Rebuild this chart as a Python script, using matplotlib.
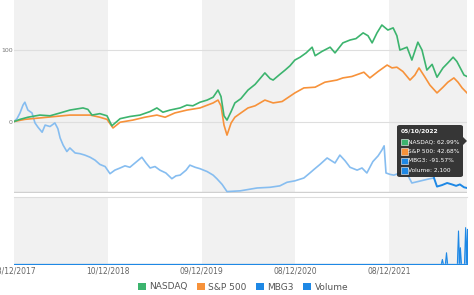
import numpy as np
import matplotlib.pyplot as plt
from matplotlib.patches import Patch, FancyBboxPatch, Rectangle, Polygon

# x positions are trading-day indices (250 per tick band)
tick_pos = [0, 250, 500, 750, 1000]
tick_labels = ["08/12/2017", "10/12/2018", "09/12/2019", "08/12/2020", "08/12/2021"]
x_end = 1208

nasdaq_x = [0, 16, 37, 69, 96, 123, 149, 184, 197, 208, 229, 248, 261, 283, 309, 336, 363, 381, 397, 416,
            443, 461, 477, 496, 515, 531, 544, 552, 560, 568, 579, 589, 605, 624, 643, 669, 683, 691, 709, 723,
            736, 749, 763, 779, 795, 803, 821, 843, 856, 877, 896, 912, 931, 944, 955, 968, 981, 997, 1011,
            1021, 1029, 1048, 1061, 1077, 1088, 1101, 1115, 1128, 1144, 1157, 1171, 1181, 1189, 1200, 1208]
nasdaq_y = [0, 3, 6, 9, 8, 12, 16, 19, 17, 9, 11, 8, -6, 4, 7, 9, 14, 19, 13, 16,
            19, 23, 22, 27, 30, 34, 44, 35, 8, 2, 14, 26, 32, 44, 52, 68, 60, 58, 66, 72,
            78, 86, 90, 96, 104, 92, 98, 104, 96, 110, 114, 116, 124, 120, 110, 124, 135, 128, 131,
            120, 100, 104, 86, 111, 100, 72, 80, 62, 75, 82, 90, 84, 76, 65, 63]

sp500_x = [0, 29, 69, 109, 149, 203, 229, 248, 264, 283, 317, 349, 381, 403, 429, 461, 496, 531, 544,
           552, 560, 568, 579, 589, 605, 624, 643, 669, 691, 715, 749, 773, 803, 829, 861, 877, 901, 933,
           949, 971, 995, 1008, 1021, 1037, 1056, 1069, 1080, 1096, 1109, 1128, 1144, 1157, 1173, 1184,
           1195, 1208]
sp500_y = [0, 3, 5, 7, 9, 9, 6, 3, -9, -1, 2, 6, 9, 6, 12, 16, 19, 26, 30,
           22, -5, -19, -2, 6, 12, 19, 22, 30, 26, 28, 40, 47, 48, 55, 58, 61, 63, 69,
           61, 70, 79, 75, 76, 70, 58, 65, 75, 62, 51, 40, 48, 55, 61, 55, 47, 40]

mbg3_x = [0, 8, 16, 24, 29, 37, 48, 56, 64, 75, 83, 96, 109, 117, 123, 131, 141, 149, 163, 176, 189,
          203, 216, 229, 243, 256, 269, 283, 296, 309, 325, 341, 352, 363, 376, 389, 405, 421, 432, 443,
          459, 469, 483, 496, 515, 531, 541, 555, 568, 603, 648, 683, 709, 728, 749, 773, 789, 800, 816,
          835, 856, 869, 883, 896, 915, 928, 941, 957, 971, 981, 987, 992, 1003, 1013, 1029, 1040, 1051,
          1061, 1077, 1093, 1109, 1120]
mbg3_y = [0, 4, 12, 23, 27, 16, 12, -2, -8, -15, -5, -7, -2, -10, -23, -33, -42, -37, -44, -45, -47,
          -50, -54, -60, -63, -73, -68, -65, -62, -64, -57, -50, -58, -65, -63, -68, -72, -80, -76, -75,
          -68, -61, -64, -66, -70, -75, -80, -88, -98, -97, -93, -92, -90, -85, -83, -79, -72, -67, -60,
          -51, -58, -47, -55, -64, -68, -65, -72, -56, -48, -40, -34, -72, -74, -75, -72, -70, -76,
          -86, -84, -82, -80, -79]
# last stretch is highlighted (hovered series)
mbg3_hx = [1120, 1128, 1141, 1155, 1168, 1179, 1189, 1200, 1208]
mbg3_hy = [-79, -91, -89, -86, -88, -90, -88, -92, -93]

vol_x = [0, 1138, 1141, 1144, 1149, 1152, 1155, 1181, 1184, 1187, 1189, 1192, 1200, 1203, 1206, 1208]
vol_y = [0, 0, 300, 0, 0, 700, 0, 0, 2000, 0, 1000, 0, 0, 2200, 0, 2100]

GREEN = "#3cb46e"
ORANGE = "#f7923a"
BLUE = "#1e88e5"
LIGHTBLUE = "#86bdf0"
BAND = "#f1f1f1"

fig = plt.figure(figsize=(4.74, 2.95), dpi=100)
ax = fig.add_axes([14 / 474, 1 - 193 / 295, 453 / 474, 193 / 295])
ax2 = fig.add_axes([14 / 474, 1 - 264 / 295, 453 / 474, 67 / 295])

for a in (ax, ax2):
    for i in range(0, 5, 2):
        a.axvspan(i * 250, min((i + 1) * 250, x_end), color=BAND, lw=0, zorder=0)
    a.set_xlim(0, x_end)
    for s in a.spines.values():
        s.set_visible(False)
    a.tick_params(length=0)

ax.set_ylim(-100, 170)
ax.set_yticks([0, 100])
ax.set_yticklabels(["0", "100"], fontsize=4.5, color="#777777")
ax.tick_params(axis="y", pad=1)
ax.set_xticks([])
for g in (0, 100):
    ax.axhline(g, color="#dedede", lw=0.8, zorder=1)
ax.axhline(-99, color="#d0d0d0", lw=1.0, zorder=1)

ax.plot(mbg3_x, mbg3_y, color=LIGHTBLUE, lw=1.2, zorder=2)
ax.plot(mbg3_hx, mbg3_hy, color=BLUE, lw=1.4, zorder=2)
ax.plot(sp500_x, sp500_y, color=ORANGE, lw=1.2, zorder=3)
ax.plot(nasdaq_x, nasdaq_y, color=GREEN, lw=1.2, zorder=4)

ax2.set_ylim(0, 4000)
ax2.set_yticks([])
ax2.fill_between(vol_x, vol_y, color=LIGHTBLUE, lw=0.8, edgecolor=BLUE)
ax2.axhline(0, color="#d8d8d8", lw=1.0)
ax2.spines["top"].set_visible(True)
ax2.spines["top"].set_color("#dddddd")
ax2.set_xticks(tick_pos)
ax2.set_xticklabels(tick_labels, fontsize=5.5, color="#666666")
ax2.tick_params(axis="x", pad=2)

# tooltip
W, H = 474.0, 295.0
box = FancyBboxPatch((397 / W, 1 - 177 / H), 66 / W, 52 / H,
                     boxstyle="round,pad=0,rounding_size=0.006",
                     transform=fig.transFigure, facecolor="#262626", edgecolor="none",
                     alpha=0.92, zorder=10)
fig.add_artist(box)
fig.add_artist(Polygon([(463 / W, 1 - 137 / H), (467 / W, 1 - 141 / H), (463 / W, 1 - 145 / H)],
                       closed=True, transform=fig.transFigure, facecolor="#262626",
                       edgecolor="none", alpha=0.92, zorder=10))
fig.text(401 / W, 1 - 131 / H, "05/10/2022", fontsize=4.3, color="white",
         fontweight="bold", va="center", zorder=11)
rows = [("NASDAQ: 62.99%", GREEN), ("S&P 500: 42.68%", ORANGE),
        ("MBG3: -91.57%", BLUE), ("Volume: 2,100", BLUE)]
for k, (txt, c) in enumerate(rows):
    yc = 1 - (142 + k * 9.5) / H
    fig.add_artist(Rectangle((401 / W, yc - 3.2 / H), 6.5 / W, 6.5 / H,
                             transform=fig.transFigure, facecolor=c,
                             edgecolor="white", lw=0.4, zorder=11))
    fig.text(408.5 / W, yc, txt, fontsize=4.2, color="white", va="center", zorder=11)

handles = [Patch(facecolor=GREEN, label="NASDAQ"), Patch(facecolor=ORANGE, label="S&P 500"),
           Patch(facecolor=BLUE, label="MBG3"), Patch(facecolor=BLUE, label="Volume")]
fig.legend(handles=handles, loc="center", bbox_to_anchor=(243 / W, 1 - 287 / H), ncol=4,
           frameon=False, fontsize=6.5, handlelength=0.9, handleheight=0.9,
           handletextpad=0.4, columnspacing=1.0, labelcolor="#555555")

fig.savefig("out.png", dpi=100)
